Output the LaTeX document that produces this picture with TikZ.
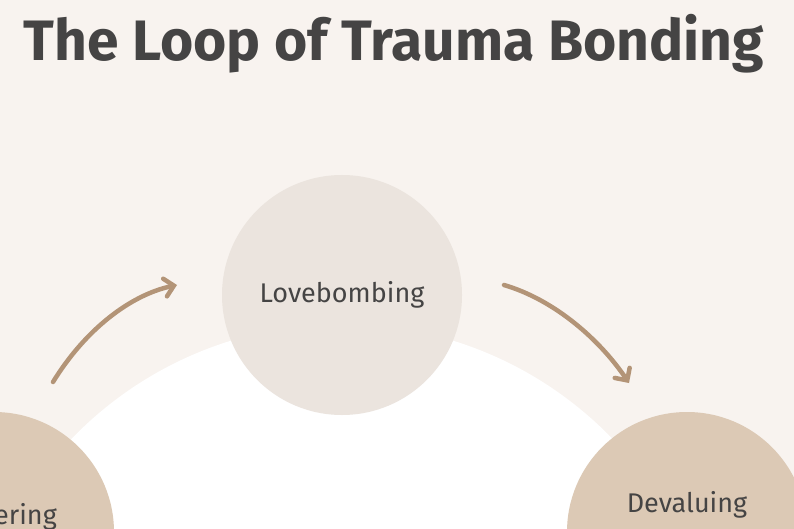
\documentclass[tikz,border=0pt]{standalone}
\usepackage{fontspec}
\setmainfont{Fira Sans}
\usetikzlibrary{arrows.meta}
\definecolor{bg}{HTML}{F8F3EF}
\definecolor{cA}{HTML}{EBE4DE}
\definecolor{cB}{HTML}{DCC9B5}
\definecolor{arr}{HTML}{B39477}
\definecolor{ink}{HTML}{454444}
\tikzset{stage/.style={circle,minimum size=240pt,inner sep=0pt,fill=#1,text=ink,font=\fontsize{27}{32}\selectfont},
 flow/.style={draw=arr,line width=4.5pt,line cap=round,-{Straight Barb[length=9pt,width=18pt,line cap=round]}}}
\begin{document}
\begin{tikzpicture}[x=1pt,y=-1pt]
\useasboundingbox (0,0) rectangle (794,529);
\clip (0,0) rectangle (794,529);
\fill[bg] (0,0) rectangle (794,529);
\fill[white] (342,700) circle[radius=376];
\node[stage=cA] (love) at (342,295) {Lovebombing};
\node[stage=cB] (dev) at (687,532) {\raisebox{60pt}{Devaluing}};
\node[stage=cB] (hoov) at (-6,532) {\raisebox{36pt}{Hoovering}};
\node[font=\fontsize{57}{68}\selectfont\bfseries,text=ink] (title) at (394,44) {The Loop of Trauma Bonding};
\coordinate (a1) at (53,382); \coordinate (a2) at (177,285);
\coordinate (b1) at (504,285); \coordinate (b2) at (629,383);
\draw[flow] (a1) .. controls (85,330) and (130,295) .. (a2);
\draw[flow] (b1) .. controls (555,300) and (600,340) .. (b2);
\end{tikzpicture}
\end{document}
